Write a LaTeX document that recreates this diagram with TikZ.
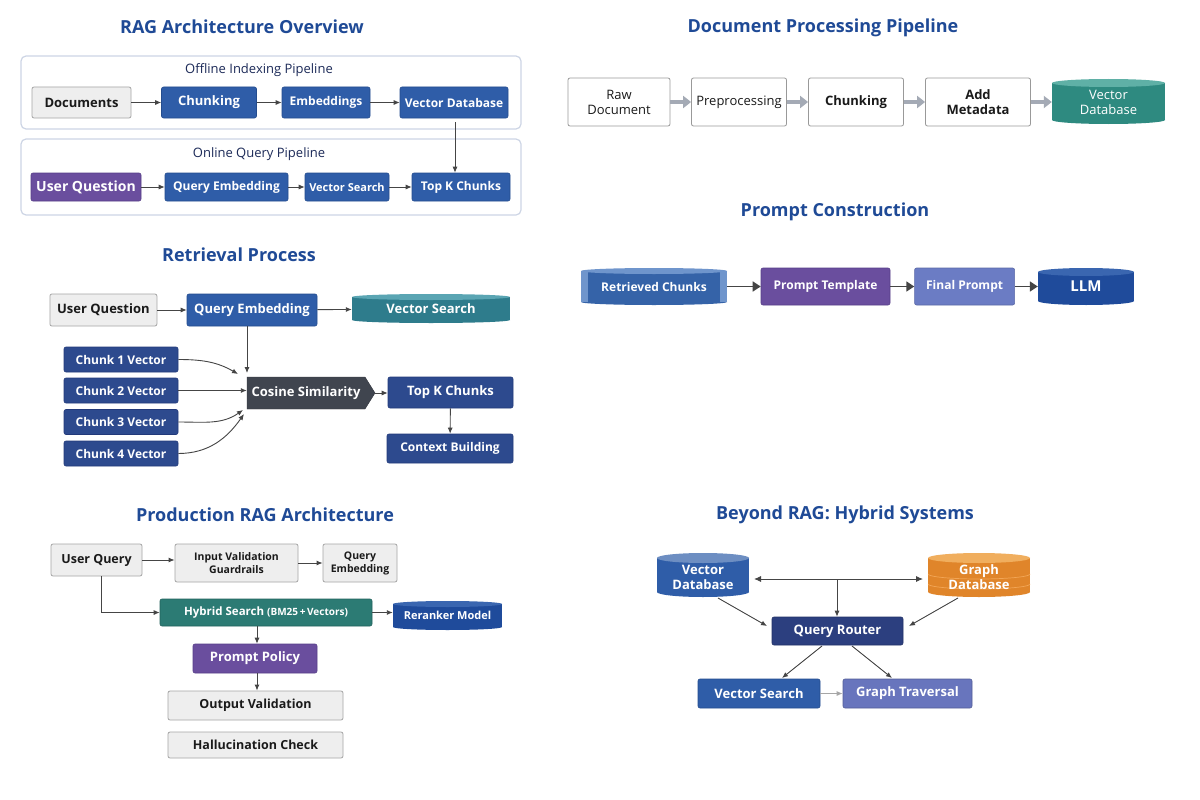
\documentclass[tikz,border=0pt]{standalone}
\usepackage{fontspec}
\setmainfont{Open Sans}
\usetikzlibrary{arrows.meta,shapes.symbols,calc}
\definecolor{ttlc}{HTML}{1F4A96}
\definecolor{blu}{HTML}{2F5DA8}
\definecolor{bluD}{HTML}{244C8E}
\definecolor{navy}{HTML}{2D4A8E}
\definecolor{navyD}{HTML}{22397A}
\definecolor{pur}{HTML}{6A4E9E}
\definecolor{purD}{HTML}{573F88}
\definecolor{gryF}{HTML}{EEEEEE}
\definecolor{gryB}{HTML}{A5A5A5}
\definecolor{tealA}{HTML}{2E8A80}
\definecolor{tealAt}{HTML}{5FB0A6}
\definecolor{tealB}{HTML}{2E7C8C}
\definecolor{tealBt}{HTML}{5AA5B3}
\definecolor{tealC}{HTML}{2C7B74}
\definecolor{cosc}{HTML}{40454F}
\definecolor{fpc}{HTML}{6B7CC4}
\definecolor{llmc}{HTML}{1F4B9B}
\definecolor{llmt}{HTML}{3A66B0}
\definecolor{rcc}{HTML}{3563A8}
\definecolor{rct}{HTML}{6F95CC}
\definecolor{qrc}{HTML}{2C3F7F}
\definecolor{gtc}{HTML}{6875BD}
\definecolor{orn}{HTML}{E0852A}
\definecolor{ornT}{HTML}{F0AE5E}
\definecolor{ornL}{HTML}{F2A555}
\definecolor{frm}{HTML}{CDD5E5}
\definecolor{dtxt}{HTML}{1A1A1A}
\definecolor{lbltxt}{HTML}{1C2A58}
\definecolor{arrc}{HTML}{454545}
\definecolor{garrc}{HTML}{A4AAB5}
\newcommand\mycyl[7]{%
  \fill[#6] (#1,-#2-#5) rectangle (#3,-#4+#5);
  \fill[#6] ({(#1+#3)/2},-#4+#5) ellipse [x radius={(#3-#1)/2}, y radius=#5];
  \fill[#7] ({(#1+#3)/2},-#2-#5) ellipse [x radius={(#3-#1)/2}, y radius=#5];
}
\begin{document}
\begin{tikzpicture}[x=1pt,y=1pt,
  ttl/.style={font=\bfseries\fontsize{18}{20}\selectfont, text=ttlc},
  frame/.style={draw=frm, line width=1.2pt, rounded corners=5pt, fill=white, inner sep=0pt},
  lbl/.style={font=\fontsize{13}{15}\selectfont, text=lbltxt},
  basebox/.style={rectangle, rounded corners=2pt, inner sep=0pt, align=center, font=\bfseries\fontsize{12}{14}\selectfont},
  gbox/.style={basebox, fill=gryF, draw=gryB, line width=0.8pt, text=dtxt},
  bbox/.style={basebox, fill=blu, draw=bluD, line width=0.6pt, text=white},
  nbox/.style={basebox, fill=navy, draw=navyD, line width=0.6pt, text=white},
  pbox/.style={basebox, fill=pur, draw=purD, line width=0.6pt, text=white},
  wbox/.style={basebox, fill=white, draw=gray!80, line width=0.8pt, text=dtxt, font=\fontsize{13}{15}\selectfont},
  ctxt/.style={inner sep=0pt, align=center, text=white, font=\bfseries\fontsize{12.5}{14}\selectfont},
  arr/.style={-{Latex[length=6pt,width=5pt]}, line width=0.9pt, draw=arrc},
  garr/.style={-{Triangle[length=8pt,width=12pt]}, line width=3.5pt, draw=garrc},
  parr/.style={-{Triangle[length=8pt,width=10pt]}, line width=1.6pt, draw=arrc},
]
\useasboundingbox (0,0) rectangle (1200,-800);
\fill[white] (0,0) rectangle (1200,-800);

% ---------- titles
\node[ttl] (t1) at (242,-27) {RAG Architecture Overview};
\node[ttl] (t2) at (823,-28) {Document Processing Pipeline};
\node[ttl] (t3) at (239,-255) {Retrieval Process};
\node[ttl] (t4) at (835,-212) {Prompt Construction};
\node[ttl] (t5) at (265,-515) {Production RAG Architecture};
\node[ttl] (t6) at (845,-515) {Beyond RAG: Hybrid Systems};

% ---------- Panel 1
\node[frame, minimum width=500pt, minimum height=73pt] (f1) at (271,-92.5) {};
\node[lbl] (l1) at (259,-70) {Offline Indexing Pipeline};
\node[gbox, minimum width=99pt, minimum height=31pt, font=\bfseries\fontsize{13}{15}\selectfont] (docs) at (81.5,-102.5) {Documents};
\node[bbox, minimum width=95pt, minimum height=31pt, font=\bfseries\fontsize{13}{15}\selectfont] (chk) at (209,-102.5) {Chunking};
\node[bbox, minimum width=88pt, minimum height=31pt] (emb) at (326,-102.5) {Embeddings};
\node[bbox, minimum width=108pt, minimum height=31pt] (vdb) at (454,-102.5) {Vector Database};
\node[frame, minimum width=500pt, minimum height=76pt] (f2) at (271,-177) {};
\node[lbl] (l2) at (259,-154) {Online Query Pipeline};
\node[pbox, minimum width=110pt, minimum height=28pt, font=\bfseries\fontsize{14}{16}\selectfont] (uq) at (86,-187) {User Question};
\node[bbox, minimum width=123pt, minimum height=28pt] (qe) at (226.5,-187) {Query Embedding};
\node[bbox, minimum width=84pt, minimum height=28pt, font=\bfseries\fontsize{11}{13}\selectfont] (vs) at (347,-187) {Vector Search};
\node[bbox, minimum width=98pt, minimum height=28pt] (tk) at (461,-187) {Top K Chunks};
\draw[arr] (docs) -- (chk);
\draw[arr] (chk) -- (emb);
\draw[arr] (emb) -- (vdb);
\draw[arr] (uq) -- (qe);
\draw[arr] (qe) -- (vs);
\draw[arr] (vs) -- (tk);
\coordinate (vdown) at (455,-122);
\draw[arr] (vdown) -- (vdown |- tk.north);

% ---------- Panel 2
\node[wbox, minimum width=102pt, minimum height=48pt] (raw) at (619,-102) {Raw\\Document};
\node[wbox, minimum width=95pt, minimum height=48pt] (prep) at (739,-102) {Preprocessing};
\node[wbox, minimum width=95pt, minimum height=48pt, font=\bfseries\fontsize{13}{15}\selectfont] (chk2) at (856,-102) {Chunking};
\node[wbox, minimum width=105pt, minimum height=48pt, font=\bfseries\fontsize{13}{15}\selectfont] (meta) at (978,-102) {Add\\Metadata};
\mycyl{1052}{79}{1165}{124}{4}{tealA}{tealAt}
\node[ctxt, minimum width=113pt, minimum height=45pt, font=\fontsize{13}{15}\selectfont] (vdb2) at (1108.5,-102) {Vector\\Database};
\draw[garr] (raw) -- (prep);
\draw[garr] (prep) -- (chk2);
\draw[garr] (chk2) -- (meta);
\draw[garr] (meta) -- (vdb2);

% ---------- Panel 3: Prompt Construction
\mycyl{581}{268}{727}{305}{3}{rcc}{rct}
\fill[rct] (581,-271) rectangle (588,-302);
\fill[rct] (720,-271) rectangle (727,-302);
\node[ctxt, minimum width=146pt, minimum height=37pt, font=\bfseries\fontsize{12}{14}\selectfont] (rc) at (654,-286.5) {Retrieved Chunks};
\node[pbox, minimum width=129pt, minimum height=37pt] (pt) at (825.5,-286.5) {Prompt Template};
\node[basebox, fill=fpc, draw=fpc!85!black, line width=0.6pt, text=white, minimum width=100pt, minimum height=37pt] (fp) at (964.6,-286.5) {Final Prompt};
\mycyl{1038}{268}{1134}{305}{4}{llmc}{llmt}
\node[ctxt, minimum width=96pt, minimum height=37pt, font=\bfseries\fontsize{15}{17}\selectfont] (llm) at (1086,-286.5) {LLM};
\draw[parr] (rc) -- (pt);
\draw[parr] (pt) -- (fp);
\draw[parr] (fp) -- (llm);

% ---------- Panel 4: Retrieval Process
\node[gbox, minimum width=107pt, minimum height=32pt, font=\bfseries\fontsize{13}{15}\selectfont] (uq2) at (103.4,-310) {User Question};
\node[bbox, minimum width=130pt, minimum height=32pt, font=\bfseries\fontsize{13}{15}\selectfont] (qe2) at (252,-310) {Query Embedding};
\mycyl{352}{294}{510}{323}{3}{tealB}{tealBt}
\node[ctxt, minimum width=158pt, minimum height=29pt, font=\bfseries\fontsize{13}{15}\selectfont] (vs2) at (431,-309) {Vector Search};
\node[nbox, minimum width=114pt, minimum height=25pt] (c1) at (121,-359.5) {Chunk 1 Vector};
\node[nbox, minimum width=114pt, minimum height=25pt] (c2) at (121,-390.5) {Chunk 2 Vector};
\node[nbox, minimum width=114pt, minimum height=25pt] (c3) at (121,-422) {Chunk 3 Vector};
\node[nbox, minimum width=114pt, minimum height=25pt] (c4) at (121,-453.5) {Chunk 4 Vector};
\node[signal, signal to=east, signal pointer angle=116, fill=cosc, draw=cosc!80!black, text=white, inner sep=0pt,
      minimum width=128pt, minimum height=32pt, font=\bfseries\fontsize{13}{15}\selectfont] (cos) at (306,-393) {Cosine Similarity};
\node[nbox, minimum width=125pt, minimum height=31pt, font=\bfseries\fontsize{13}{15}\selectfont] (tk2) at (450.5,-392.5) {Top K Chunks};
\node[nbox, minimum width=126pt, minimum height=29pt] (cb) at (450,-448.5) {Context Building};
\draw[arr] (uq2) -- (qe2);
\draw[arr] (qe2) -- (vs2);
\coordinate (hq) at (247,-373);
\draw[arr] (hq |- qe2.south) -- (hq);
\coordinate (h1) at (238,-374);
\coordinate (h3) at (243,-410);
\coordinate (h4) at (244,-414);
\draw[arr] (c1.east) to[out=0, in=150] (h1);
\draw[arr] (c2.east) -- (c2.east -| cos.west);
\draw[arr] (c3.east) to[out=0, in=-145] (h3);
\draw[arr] (c4.east) to[out=0, in=-125] (h4);
\draw[arr] (cos.east) -- (cos.east -| tk2.west);
\draw[arr] (tk2) -- (cb);

% ---------- Panel 5: Production RAG
\node[gbox, minimum width=91pt, minimum height=32pt, font=\bfseries\fontsize{12.5}{14}\selectfont] (uq3) at (96.5,-560) {User Query};
\node[gbox, minimum width=123pt, minimum height=38pt, font=\bfseries\fontsize{10.5}{13}\selectfont] (iv) at (236.5,-563) {Input Validation\\Guardrails};
\node[gbox, minimum width=74pt, minimum height=38pt, font=\bfseries\fontsize{10.5}{13}\selectfont] (qe3) at (360,-563) {Query\\Embedding};
\node[basebox, fill=tealC, draw=tealC!80!black, line width=0.6pt, text=white, minimum width=212pt, minimum height=27pt, font=\bfseries\fontsize{11.5}{14}\selectfont] (hs) at (266,-612.5) {Hybrid Search {\fontsize{10}{12}\selectfont(BM25\,+\,Vectors)}};
\mycyl{393}{601}{502}{630}{3}{llmc}{llmt}
\node[ctxt, minimum width=109pt, minimum height=29pt, font=\bfseries\fontsize{11}{13}\selectfont] (rr) at (447.5,-615.5) {Reranker Model};
\node[pbox, minimum width=124pt, minimum height=29pt, font=\bfseries\fontsize{13}{15}\selectfont] (pp) at (255,-658.5) {Prompt Policy};
\node[gbox, minimum width=175pt, minimum height=29pt, font=\bfseries\fontsize{12.5}{14}\selectfont] (ov) at (255.5,-705.5) {Output Validation};
\node[gbox, minimum width=175pt, minimum height=26pt, font=\bfseries\fontsize{12.5}{14}\selectfont] (hc) at (255.5,-745) {Hallucination Check};
\draw[arr] (uq3.east) -- (uq3.east -| iv.west);
\draw[arr] (iv) -- (qe3);
\draw[arr] ([xshift=4.5pt]uq3.south) |- (hs.west);
\draw[arr] (hs.east) -- (hs.east -| rr.west);
\coordinate (hp) at (257,0);
\draw[arr] (hp |- hs.south) -- (hp |- pp.north);
\draw[arr] (hp |- pp.south) -- (hp |- ov.north);

% ---------- Panel 6: Beyond RAG
\mycyl{657}{553}{749}{597}{5}{blu}{blu!70!white}
\node[ctxt, minimum width=92pt, minimum height=44pt, font=\bfseries\fontsize{13}{15}\selectfont] (vdb3) at (703,-577) {Vector\\Database};
\mycyl{928}{553}{1030}{597}{5}{orn}{ornT}
\draw[ornL, line width=0.7pt] (928,-574) arc[start angle=180, end angle=360, x radius=51, y radius=5];
\draw[ornL, line width=0.7pt] (928,-584) arc[start angle=180, end angle=360, x radius=51, y radius=5];
\node[ctxt, minimum width=102pt, minimum height=44pt, font=\bfseries\fontsize{13}{15}\selectfont] (gdb) at (979,-577) {Graph\\Database};
\node[basebox, fill=qrc, draw=qrc!80!black, line width=0.6pt, text=white, minimum width=131pt, minimum height=28pt, font=\bfseries\fontsize{13}{15}\selectfont] (qr) at (837.5,-631) {Query Router};
\node[bbox, minimum width=122pt, minimum height=29pt, font=\bfseries\fontsize{13}{15}\selectfont] (vs3) at (759,-693.5) {Vector Search};
\node[basebox, fill=gtc, draw=gtc!80!black, line width=0.6pt, text=white, minimum width=129pt, minimum height=29pt, font=\bfseries\fontsize{13}{15}\selectfont] (gt) at (907.5,-693.5) {Graph Traversal};
\coordinate (da) at (754,-579);
\coordinate (db) at (923,-579);
\coordinate (dm) at (837,-579);
\draw[{Latex[length=7pt,width=6pt]}-{Latex[length=7pt,width=6pt]}, line width=0.9pt, draw=arrc] (da) -- (db);
\draw[arr] (dm) -- (dm |- qr.north);
\coordinate (v1) at (718,-598);
\coordinate (v2) at (767,-626);
\coordinate (g1) at (958,-598);
\coordinate (g2) at (909,-626);
\draw[arr] (v1) -- (v2);
\draw[arr] (g1) -- (g2);
\coordinate (r1) at (822,-646);
\coordinate (r2) at (782,-678);
\coordinate (r3) at (852,-646);
\coordinate (r4) at (892,-678);
\draw[arr] (r1) -- (r2);
\draw[arr] (r3) -- (r4);
\draw[-{Latex[length=6pt,width=5pt]}, line width=1pt, draw=gray!70] (vs3) -- (gt);
\end{tikzpicture}
\end{document}
